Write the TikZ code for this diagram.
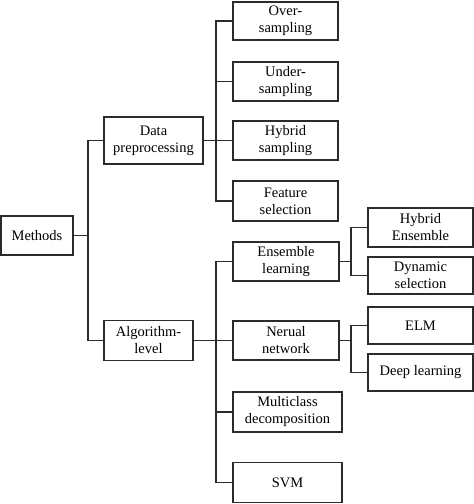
\documentclass[tikz,border=0pt]{standalone}
\usepackage{fontspec}
\setmainfont{Liberation Serif}
\definecolor{ln}{HTML}{2B2B2B}
\begin{document}
\begin{tikzpicture}[x=1pt,y=1pt,
  box/.style={draw=ln,line width=1.2pt,inner sep=0pt,outer sep=0pt,align=center,
    font=\fontsize{14.5}{17}\selectfont,text=black},
  conn/.style={draw=ln,line width=1.2pt}]
\useasboundingbox (0,0) rectangle (474,-504);
% level 0
\node[box,minimum width=72,minimum height=39] (meth) at (37,-235.5) {Methods};
% level 1
\node[box,minimum width=99,minimum height=47] (data) at (153.5,-140.5) {Data\\preprocessing};
\node[box,minimum width=89,minimum height=40] (algo) at (148.5,-340.5) {Algorithm-\\level};
% level 2 data
\node[box,minimum width=105,minimum height=38] (over) at (285.5,-21) {Over-\\sampling};
\node[box,minimum width=105,minimum height=39] (under) at (285.5,-81.5) {Under-\\sampling};
\node[box,minimum width=105,minimum height=39] (hybs) at (285.5,-140.5) {Hybrid\\sampling};
\node[box,minimum width=105,minimum height=40] (feat) at (285.5,-201) {Feature\\selection};
% level 2 algo
\node[box,minimum width=106,minimum height=39] (ens) at (286,-261.5) {Ensemble\\learning};
\node[box,minimum width=106,minimum height=39] (nn) at (286,-340.5) {Nerual\\network};
\node[box,minimum width=109,minimum height=40] (multi) at (287.5,-412) {Multiclass\\decomposition};
\node[box,minimum width=109,minimum height=40] (svm) at (287.5,-482.5) {SVM};
% level 3
\node[box,minimum width=105,minimum height=39] (hens) at (420.5,-227.5) {Hybrid\\Ensemble};
\node[box,minimum width=105,minimum height=37] (dyn) at (420.5,-275.5) {Dynamic\\selection};
\node[box,minimum width=105,minimum height=37] (elm) at (420.5,-325.5) {ELM};
\node[box,minimum width=105,minimum height=37] (deep) at (420.5,-372.5) {Deep learning};
% bus coordinates
\coordinate (b1) at (88,0);
\coordinate (b2) at (216,0);
\coordinate (b3) at (351,0);
% connectors
\draw[conn] (meth.east) -- (meth.east -| b1);
\draw[conn] (data.west) -- (data.west -| b1) -- (algo.west -| b1) -- (algo.west);
\draw[conn] (data.east) -- (data.east -| b2);
\draw[conn] (over.west) -- (over.west -| b2) -- (feat.west -| b2) -- (feat.west);
\draw[conn] (under.west) -- (under.west -| b2);
\draw[conn] (hybs.west) -- (hybs.west -| b2);
\draw[conn] (algo.east) -- (algo.east -| b2);
\draw[conn] (ens.west) -- (ens.west -| b2) -- (svm.west -| b2) -- (svm.west);
\draw[conn] (nn.west) -- (nn.west -| b2);
\draw[conn] (multi.west) -- (multi.west -| b2);
\draw[conn] (ens.east) -- (ens.east -| b3);
\draw[conn] (hens.west) -- (hens.west -| b3) -- (dyn.west -| b3) -- (dyn.west);
\draw[conn] (nn.east) -- (nn.east -| b3);
\draw[conn] (elm.west) -- (elm.west -| b3) -- (deep.west -| b3) -- (deep.west);
\end{tikzpicture}
\end{document}
